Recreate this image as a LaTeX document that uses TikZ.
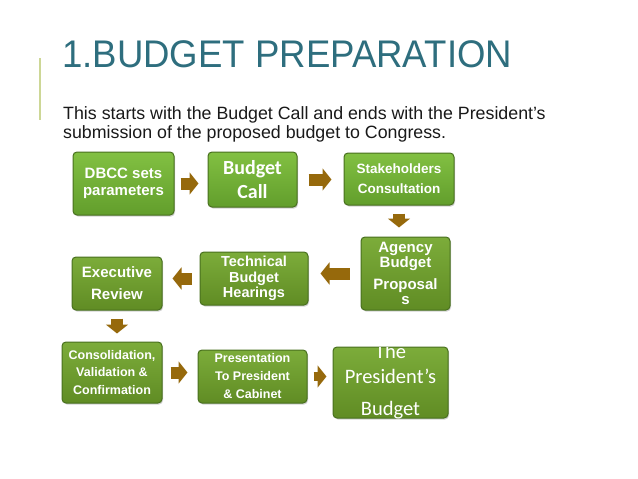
\documentclass[tikz,border=0pt]{standalone}
\usepackage{fontspec}
\setmainfont{Liberation Sans}
\newfontfamily\calibri{Carlito}
\newfontfamily\titlefont[FakeStretch=0.95]{Liberation Sans}
\usetikzlibrary{arrows.meta,shadows}
\definecolor{titleteal}{RGB}{46,110,126}
\definecolor{barlime}{RGB}{205,215,150}
\definecolor{leaftop}{RGB}{130,192,66}
\definecolor{leafbot}{RGB}{98,158,44}
\definecolor{olivetop}{RGB}{124,172,58}
\definecolor{olivebot}{RGB}{96,140,36}
\definecolor{boxedge}{RGB}{72,112,30}
\definecolor{arrowbrown}{RGB}{150,105,12}
\begin{document}
\begin{tikzpicture}[x=1pt,y=-1pt,
 box/.style={draw=boxedge,line width=1pt,rounded corners=4pt,top color=olivetop,bottom color=olivebot,
  text=white,align=center,inner sep=1pt,drop shadow={shadow xshift=1pt,shadow yshift=-1.5pt,opacity=.35}},
 brightbox/.style={box,top color=leaftop,bottom color=leafbot},
 fs/.style 2 args={font=\fontsize{#1}{#2}\selectfont\bfseries},
 flow/.style={arrowbrown,line width=12pt,-{Triangle[width=22pt,length=9pt]}}]
\fill[white](0,0)rectangle(638,479);
\useasboundingbox(0,0)rectangle(638,479);
%heading
\node[anchor=base west,inner sep=0,text=titleteal,font=\titlefont\fontsize{38.5}{38}\selectfont](title)at(62,67){1.BUDGET PREPARATION};
\draw[barlime,line width=2pt](40,58)--(40,120);
\node[anchor=base west,inner sep=0,text=black!90,font=\fontsize{17.8}{19}\selectfont](intro1)at(63,119){This starts with the Budget Call and ends with the President’s};
\node[anchor=base west,inner sep=0,text=black!90,font=\fontsize{17.8}{19}\selectfont](intro2)at(63,138){submission of the proposed budget to Congress.};
%first row
\node[brightbox,fs={15}{17},minimum width=101pt,minimum height=63pt](dbcc)at(123.5,183.5){DBCC sets\\parameters};
\node[brightbox,font=\calibri\bfseries\fontsize{20}{24}\selectfont,minimum width=89pt,minimum height=55pt](call)at(252.5,179.5){Budget\\Call};
\node[brightbox,fs={13.5}{17},minimum width=110pt,minimum height=52pt](stake)at(399,179){Stakeholders\\[3pt]Consultation};
%second row
\node[box,fs={15}{14.5},minimum width=89pt,minimum height=73pt](agency)at(405.5,273.5){Agency\\Budget\\[8pt]Proposal\\s};
\node[box,fs={14.5}{15.5},minimum width=108pt,minimum height=53pt](tech)at(254,278.5){Technical\\Budget\\Hearings};
\node[box,fs={15}{16},minimum width=90pt,minimum height=53pt](exec)at(117,283.5){Executive\\[6pt]Review};
%third row
\node[box,fs={12.5}{17.5},minimum width=100pt,minimum height=61pt](consol)at(112,372.5){Consolidation,\\Validation \&\\Confirmation};
\node[box,fs={12.5}{18},minimum width=109pt,minimum height=53pt](present)at(252.5,376.5){Presentation\\To President\\\& Cabinet};
\node[box,minimum width=115pt,minimum height=71pt](budget)at(390.5,382.5){};
\begin{scope}
\clip[rounded corners=4pt](budget.south west)rectangle(budget.north east);
\node[anchor=base,text=white,font=\calibri\fontsize{20.5}{20}\selectfont](pthe)at([yshift=24.5pt]budget.center){The};
\node[anchor=base,text=white,font=\calibri\fontsize{20.5}{20}\selectfont](pname)at([yshift=-0.5pt]budget.center){President’s};
\node[anchor=base,text=white,font=\calibri\fontsize{20.5}{20}\selectfont](pbud)at([yshift=-32.5pt]budget.center){Budget};
\end{scope}
%arrows
\draw[flow,shorten <=6pt,shorten >=9pt](dbcc.east)--(dbcc.east-|call.west);
\draw[flow,shorten <=11pt,shorten >=12pt](call.east)--(call.east-|stake.west);
\draw[flow,shorten <=8pt,shorten >=9pt](stake.south)--(stake.south|-agency.north);
\draw[flow,shorten <=11pt,shorten >=12pt](agency.west)--(agency.west-|tech.east);
\draw[flow,shorten <=8pt,shorten >=10pt](tech.west)--(tech.west-|exec.east);
\draw[flow,shorten <=8pt,shorten >=8pt](exec.south)--(exec.south|-consol.north);
\draw[flow,shorten <=8pt,shorten >=10pt](consol.east)--(consol.east-|present.west);
\draw[flow,line width=9pt,shorten <=6pt,shorten >=6pt](present.east)--(present.east-|budget.west);
\end{tikzpicture}
\end{document}
